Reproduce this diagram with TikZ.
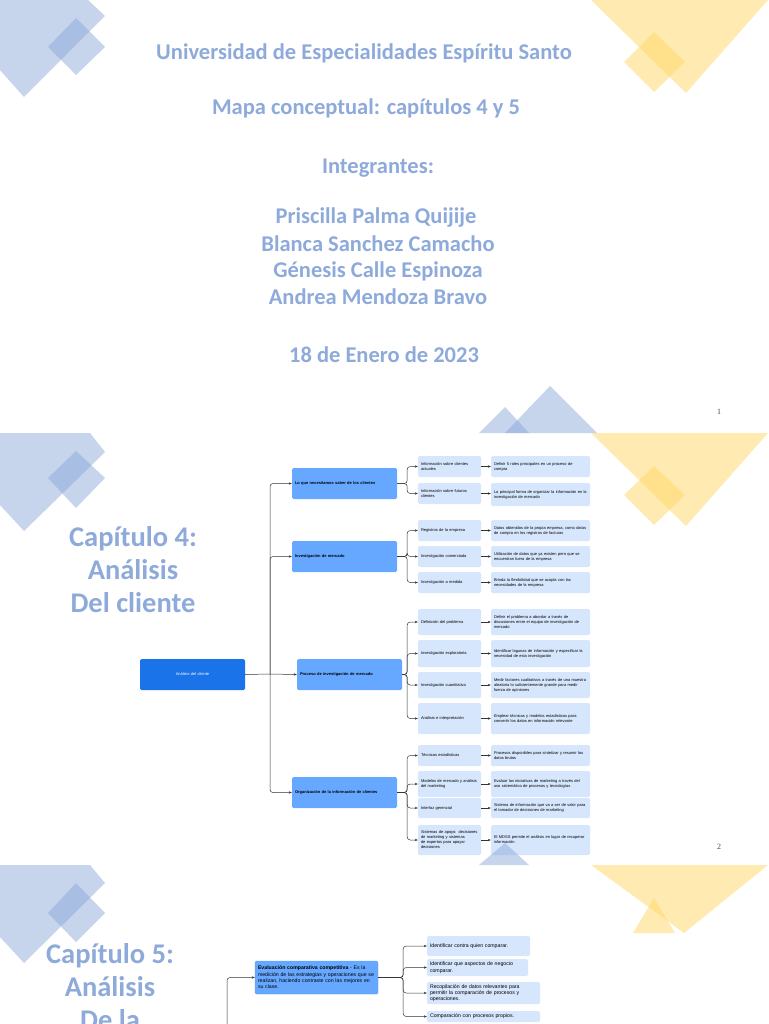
\documentclass[tikz,border=0pt]{standalone}
\usepackage{fontspec}
\setmainfont{Carlito}
\newfontfamily\mapf{Liberation Sans}
\newfontfamily\serf{Liberation Serif}
\usetikzlibrary{arrows.meta}
\definecolor{ttl}{HTML}{8EAADB}
\definecolor{dblue}{HTML}{8EAADB}
\definecolor{ylw}{HTML}{FFD966}
\definecolor{rootc}{HTML}{1A73E8}
\definecolor{l1c}{HTML}{66A8FF}
\definecolor{l2c}{HTML}{D6E6FD}
\newcommand\nohy{\hyphenpenalty=10000\exhyphenpenalty=10000\rightskip=0pt plus 20pt}
\tikzset{
 deco/.style={fill=dblue,fill opacity=.5,draw=none},
 decoy/.style={fill=ylw,fill opacity=.5,draw=none},
 ttlt/.style={text=ttl,font=\fontsize{22.5}{26}\selectfont\bfseries},
 chap/.style={text=ttl,font=\fontsize{28.5}{33}\selectfont\bfseries,align=center},
 rootbox/.style={fill=rootc,text=white,rounded corners=1.5pt,font=\mapf\fontsize{4}{5}\selectfont,inner xsep=3pt,inner ysep=0pt,align=center},
 l1box/.style={fill=l1c,rounded corners=1.5pt,font=\mapf\fontsize{4}{5}\selectfont\bfseries\nohy,inner xsep=3pt,inner ysep=0pt,align=left},
 l2box/.style={fill=l2c,rounded corners=1.5pt,font=\mapf\fontsize{4}{5}\selectfont\nohy,inner xsep=3pt,inner ysep=0pt,align=left},
 evbox/.style={fill=l1c,draw=rootc!70,line width=.4pt,rounded corners=1.5pt,font=\mapf\fontsize{5.2}{6.3}\selectfont\nohy,inner xsep=3pt,inner ysep=0pt,align=left},
 chbox/.style={fill=l2c,rounded corners=1.5pt,font=\mapf\fontsize{5.2}{6.3}\selectfont\nohy,inner xsep=3pt,inner ysep=0pt,align=left},
 conn/.style={draw=black!80,line width=.5pt,rounded corners=3pt,-{Stealth[length=3pt,width=2.4pt]}},
 pnum/.style={font=\serf\fontsize{8}{9}\selectfont,text=black!70}
}
\newcommand\bx[7]{\pgfmathsetmacro\bw{#5-#3}\pgfmathsetmacro\bh{#6-#4}\pgfmathsetmacro\tw{#5-#3-6}%
 \node[#2,minimum width=\bw pt,minimum height=\bh pt,text width=\tw pt] (#1) at ({(#3+#5)/2},{(#4+#6)/2}) {#7};}
\newcommand\br[3]{\draw[conn] (#1.east) -- ++(#3,0) |- (#2.west);}
\newcommand\st[2]{\draw[conn] (#1.east) -- (#1.east -| #2.west);}
\begin{document}
\begin{tikzpicture}[x=1pt,y=-1pt]
\useasboundingbox (0,0) rectangle (768,1024);
\fill[white] (0,0) rectangle (768,1024);
% ---------- page 1 decorations
\fill[deco] (0,0) -- (88,0) -- (105,16) -- (24,97) -- (0,70) -- cycle;
\fill[deco] (76,18) -- (105,47) -- (76,75) -- (48,47) -- cycle;
\fill[decoy] (591,0) -- (768,0) -- (686,93) -- cycle;
\fill[decoy] (654,32) -- (685,62) -- (654,92) -- (624,62) -- cycle;
% ---------- page 1 texts
\node[ttlt] (t1) at (364,53) {Universidad de Especialidades Espíritu Santo};
\node[ttlt] (t2) at (366,108) {Mapa conceptual: capítulos 4 y 5};
\node[ttlt] (t3) at (378,168) {Integrantes:};
\node[ttlt] (n1) at (376,218) {Priscilla Palma Quijije};
\node[ttlt] (n2) at (378,244) {Blanca Sanchez Camacho};
\node[ttlt] (n3) at (378,271) {Génesis Calle Espinoza};
\node[ttlt] (n4) at (378,297) {Andrea Mendoza Bravo};
\node[ttlt] (dt) at (384,355) {18 de Enero de 2023};
\node[pnum] (p1) at (719,412) {1};
% ---------- page 2 decorations
\fill[deco] (550,386) -- (597,433) -- (505,433) -- cycle;
\fill[deco] (505,407) -- (529,433) -- (479,433) -- cycle;
\fill[deco] (0,433) -- (90,433) -- (105,452) -- (24,531) -- (0,505) -- cycle;
\fill[deco] (76,451) -- (105,478) -- (76,508) -- (48,478) -- cycle;
\fill[decoy] (591,433) -- (768,433) -- (686,526) -- cycle;
\fill[decoy] (654,466) -- (685,495) -- (654,525) -- (624,495) -- cycle;
\node[chap] (c4) at (133,570) {Capítulo 4:\\[0pt]Análisis\\[0pt]Del cliente};
\node[pnum] (p2) at (719,847) {2};
% ---------- page 2 map
\bx{root}{rootbox}{140}{659}{245}{690}{Análisis del cliente}
\bx{a}{l1box}{292}{468}{397}{499}{Lo que necesitamos saber de los clientes}
\bx{b}{l1box}{292}{541}{397}{572}{Investigación de mercado}
\bx{c}{l1box}{297}{659}{402}{690}{Proceso de investigación de mercado}
\bx{d}{l1box}{292}{777}{397}{808}{Organización de la información de clientes}
\coordinate (trunk) at (270,674);
\draw[black!80,line width=.5pt] (root.east) -- (trunk);
\draw[conn] (trunk) -- (c.west);
\draw[conn] (trunk) |- (a.west);
\draw[conn] (trunk) |- (b.west);
\draw[conn] (trunk) |- (d.west);
% group 1
\bx{a1}{l2box}{418}{456}{481}{477}{Información sobre clientes actuales}
\bx{a2}{l2box}{418}{483}{481}{504}{Información sobre futuros clientes}
\bx{a1x}{l2box}{491}{456}{590}{477}{Definir 5 roles principales en un proceso de compra}
\bx{a2x}{l2box}{491}{483}{590}{506}{La principal forma de organizar la información en la investigación de mercado}
\br{a}{a1}{10}\br{a}{a2}{10}\st{a1}{a1x}\st{a2}{a2x}
% group 2
\bx{b1}{l2box}{418}{520}{481}{541}{Registros de la empresa}
\bx{b2}{l2box}{418}{546}{481}{567}{Investigación comerciada}
\bx{b3}{l2box}{418}{572}{481}{593}{Investigación a medida}
\bx{b1x}{l2box}{491}{520}{590}{541}{Datos obtenidos de la propia empresa, como datos de compra en los  registros de facturas}
\bx{b2x}{l2box}{491}{546}{590}{567}{Utilización de datos que ya existen pero que se encuentran fuera de la empresa}
\bx{b3x}{l2box}{491}{572}{590}{593}{Brinda la flexibilidad que se acopla con las necesidades de la empresa}
\br{b}{b1}{10}\br{b}{b2}{10}\br{b}{b3}{10}\st{b1}{b1x}\st{b2}{b2x}\st{b3}{b3x}
% group 3
\bx{c1}{l2box}{418}{609}{481}{635}{Definición del problema}
\bx{c2}{l2box}{418}{640}{481}{667}{Investigación exploratoria}
\bx{c3}{l2box}{418}{672}{481}{698}{Investigación cuantitativa}
\bx{c4}{l2box}{418}{703}{481}{734}{Análisis e interpretación}
\bx{c1x}{l2box}{491}{609}{590}{635}{Definir el problema a abordar a través de discusiones entre el equipo de investigación de mercado}
\bx{c2x}{l2box}{491}{640}{590}{667}{Identificar lagunas de información y especificar la necesidad de esta investigación}
\bx{c3x}{l2box}{491}{672}{590}{698}{Medir factores cualitativos a través de una muestra aleatoria lo suficientemente grande para medir fuerza de opiniones}
\bx{c4x}{l2box}{491}{703}{590}{734}{Emplear técnicas y modelos estadísticos para convertir los datos en información relevante}
\br{c}{c1}{5}\br{c}{c2}{5}\br{c}{c3}{5}\br{c}{c4}{5}\st{c1}{c1x}\st{c2}{c2x}\st{c3}{c3x}\st{c4}{c4x}
% group 4
\bx{d1}{l2box}{418}{745}{481}{766}{Técnicas estadísticas}
\bx{d2}{l2box}{418}{771}{481}{797}{Modelos de mercado y análisis del marketing}
\bx{d3}{l2box}{418}{798}{481}{818}{Interfaz gerencial}
\bx{d4}{l2box}{418}{825}{481}{855}{Sistemas de apoyo: decisiones de marketing y sistemas de expertos para apoyar decisiones}
\bx{d1x}{l2box}{491}{745}{590}{766}{Procesos disponibles para sintetizar y resumir los datos brutos}
\bx{d2x}{l2box}{491}{771}{590}{797}{Evaluar las iniciativas de marketing a través del uso sistemático de procesos y tecnologías}
\bx{d3x}{l2box}{491}{798}{590}{818}{Sistema de información que va a ser de valor para el tomador de decisiones de marketing}
\bx{d4x}{l2box}{491}{825}{590}{855}{El MDSS permite el análisis en lugar de recuperar información}
\br{d}{d1}{10}\br{d}{d2}{10}\br{d}{d3}{10}\br{d}{d4}{10}\st{d1}{d1x}\st{d2}{d2x}\st{d3}{d3x}\st{d4}{d4x}
% ---------- page 3 decorations
\fill[deco] (505,843) -- (529,865) -- (479,865) -- cycle;
\fill[deco] (0,865) -- (90,865) -- (105,883) -- (24,963) -- (0,937) -- cycle;
\fill[deco] (76,883) -- (105,913) -- (76,942) -- (48,913) -- cycle;
\fill[decoy] (591,865) -- (768,865) -- (684,933) -- cycle;
\fill[decoy] (654,898) -- (675,933) -- (633,933) -- cycle;
\node[chap,anchor=north] (c5) at (110,940) {Capítulo 5:\\[0pt]Análisis\\[0pt]De la};
% ---------- page 3 map
\bx{ev}{evbox}{255}{961}{378}{994}{\textbf{Evaluación comparativa competitiva} - Es la medición de las estrategias y  operaciones que se realizan, haciendo contraste con las mejores en su clase.}
\bx{e1}{chbox}{427}{936}{530}{956}{Identificar contra quien comparar.}
\bx{e2}{chbox}{427}{959}{528}{976}{Identificar que aspectos de negocio comparar.}
\bx{e3}{chbox}{427}{982}{540}{1004}{Recopilación de datos relevantes para permitir la comparación de  procesos y operaciones.}
\bx{e4}{chbox}{427}{1011}{540}{1022}{Comparación con procesos propios.}
\coordinate (t3b) at (227,1030);
\draw[conn] (t3b) |- (ev.west);
\br{ev}{e1}{25}\br{ev}{e2}{25}\br{ev}{e3}{25}\br{ev}{e4}{25}
\end{tikzpicture}
\end{document}
